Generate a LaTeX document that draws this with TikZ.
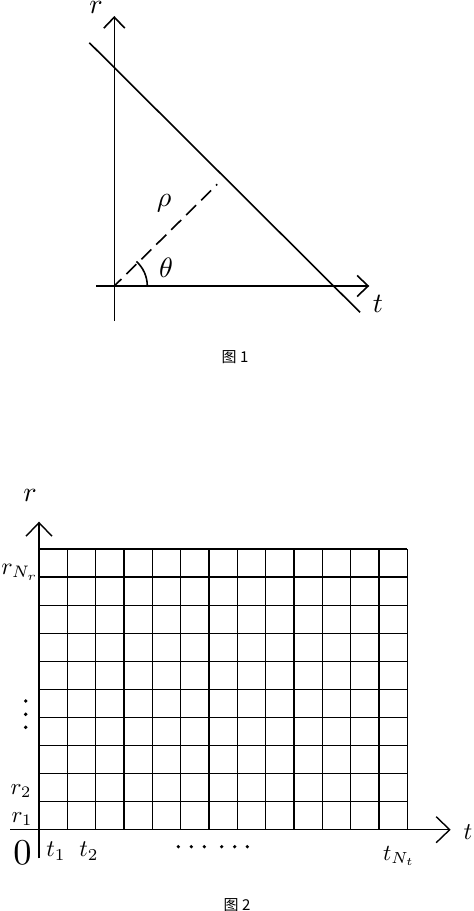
\documentclass[tikz,border=0pt]{standalone}
\usepackage{fontspec}
\newfontfamily\cjk{Noto Sans CJK SC}
\usetikzlibrary{arrows.meta,calc}

\tikzset{
  axis/.style={line width=1.6pt,-{Straight Barb[length=11pt,width=21pt]}},
  axistwo/.style={line width=1.4pt,-{Straight Barb[length=13.5pt,width=26pt]}},
  plain/.style={line width=1.6pt},
  gridline/.style={line width=1.2pt},
  lbl/.style={inner sep=0pt,scale=2.8},
  captext/.style={inner sep=0pt,scale=1.5,font=\cjk},
  dot/.style={fill=black}
}

\begin{document}
\begin{tikzpicture}[x=1pt,y=-1pt]
    \useasboundingbox (0,0) rectangle (474,911);

    % Figure 1: line in the (t,r) plane
    \coordinate (O1) at (114.3,286);
    \coordinate (r1top) at (114.3,16);
    \coordinate (r1bot) at (114.3,321);
    \coordinate (t1left) at (96,286);
    \coordinate (t1right) at (369.3,286);
    \coordinate (la) at (89.3,42.7);
    \coordinate (lb) at (360,312.3);
    \coordinate (foot) at (217.3,184.3);

    \draw[axis] (r1bot) -- (r1top);
    \draw[axis] (t1left) -- (t1right);
    \draw[plain] (la) -- (lb);
    \draw[plain,dash pattern=on 14pt off 7pt,dash phase=4pt] (O1) -- (foot);
    \draw[plain] (O1) ++(33,0) arc[start angle=0,end angle=-48,radius=33];

    \node[lbl] (rlabone) at (96,7) {$r$};
    \node[lbl] (tlabone) at (378,304) {$t$};
    \node[lbl] (rho) at (164,203) {$\rho$};
    \node[lbl] (theta) at (166,268) {$\theta$};
    \node[captext] (capone) at (235,357) {图 1};

    % Figure 2: sampling grid
    \coordinate (O2) at (39,829.7);
    \coordinate (r2top) at (39,521.7);
    \coordinate (r2bot) at (39,858.3);
    \coordinate (t2left) at (10,829.7);
    \coordinate (t2right) at (450.7,829.7);

    \foreach \i in {1,...,13}
      \draw[gridline] ($(O2)+(\i*28.33,0)$) -- ($(O2)+(\i*28.33,-280.7)$);
    \foreach \j in {1,...,10}
      \draw[gridline] ($(O2)+(0,-\j*28.07)$) -- ($(O2)+(368.3,-\j*28.07)$);

    \draw[axistwo] (r2bot) -- (r2top);
    \draw[axistwo] (t2left) -- (t2right);

    \node[lbl] (rlabtwo) at (30,495) {$r$};
    \node[lbl,scale=0.86] (tlabtwo) at (468,832) {$t$};
    \node[lbl,scale=0.85,anchor=west] (rNr) at (1,572) {$r_{N_r}$};
    \node[lbl,scale=0.82] (rtwo) at (21,791) {$r_2$};
    \node[lbl,scale=0.82] (rone) at (22,819) {$r_1$};
    \node[lbl,scale=1.3] (zero) at (22.5,853) {$0$};
    \node[lbl,scale=0.85] (tone) at (56,851) {$t_1$};
    \node[lbl,scale=0.85] (ttwo) at (89,851) {$t_2$};
    \node[lbl,scale=0.82] (tNt) at (399,856) {$t_{N_t}$};
    \node[captext] (captwo) at (237,905) {图 2};

    % Dots
    \foreach \y in {701,714.3,727.3}
      \fill[dot] (25.7,\y) circle[radius=1.9];
    \foreach \x in {178.3,191.3,204.3,221.7,234.7,247.3}
      \fill[dot] (\x,846.7) circle[radius=1.8];
  \end{tikzpicture}
\end{document}
